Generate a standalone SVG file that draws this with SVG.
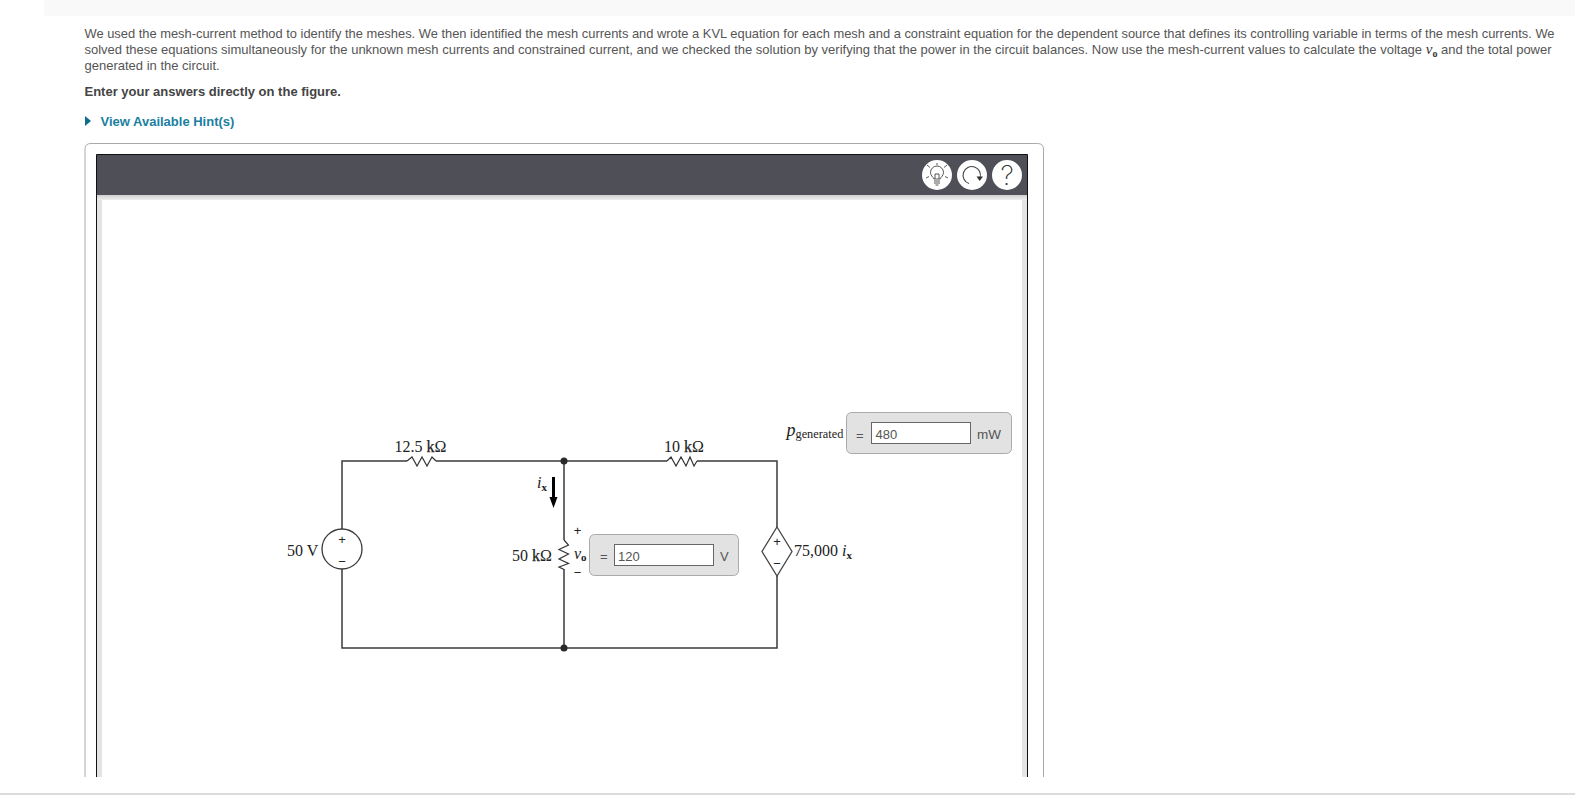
<svg xmlns="http://www.w3.org/2000/svg" width="1575" height="795" viewBox="0 0 1575 795">
<defs>
<linearGradient id="shade" x1="0" y1="0" x2="0" y2="1"><stop offset="0" stop-color="#d0d0d0"/><stop offset="1" stop-color="#eeeeee"/></linearGradient>
</defs>
<style>
.body{font-family:"Liberation Sans",Arial,sans-serif;font-size:13px;fill:#555}
.bold{font-family:"Liberation Sans",Arial,sans-serif;font-size:13px;font-weight:bold}
.lab{font-family:"Liberation Serif","Times New Roman",serif;font-size:16px;fill:#222}
.k{stroke:#222;stroke-width:.25}
.it{font-style:italic}
.sub{font-weight:bold;font-size:11px}
.sign{font-family:"Liberation Sans",Arial,sans-serif;font-size:13px;fill:#222;text-anchor:middle}
.ui{font-family:"Liberation Sans",Arial,sans-serif;font-size:13px;fill:#555}
.wire{fill:none;stroke:#3a3a3a;stroke-width:1.5;stroke-linejoin:miter}
.res{fill:none;stroke:#333;stroke-width:1.200;stroke-linejoin:miter}
.ansbox{fill:#e2e2e2;stroke:#aaa;stroke-width:1}
.field{fill:#fff;stroke:#666;stroke-width:1}
.dot{fill:#2a2a2a}
.icon{fill:#fff}
.glyph{fill:none;stroke:#444;stroke-width:.9}
</style>
<rect width="1575" height="795" fill="#fff"/>
<rect id="topband" x="44" y="0" width="1531" height="16" fill="#f9f9f9"/>
<rect id="bottomband" x="0" y="793" width="1575" height="2" fill="#dcdcdc"/>
<g id="prose">
<text class="body" x="84.500" y="38" textLength="1470" lengthAdjust="spacingAndGlyphs">We used the mesh-current method to identify the meshes. We then identified the mesh currents and wrote a KVL equation for each mesh and a constraint equation for the dependent source that defines its controlling variable in terms of the mesh currents. We</text>
<text class="body" x="84.500" y="54">solved these equations simultaneously for the unknown mesh currents and constrained current, and we checked the solution by verifying that the power in the circuit balances. Now use the mesh-current values to calculate the voltage <tspan font-family="Liberation Serif" font-style="italic" font-size="15" fill="#333">v</tspan><tspan font-family="Liberation Serif" font-weight="bold" font-size="10" dy="3" fill="#333">o</tspan><tspan dy="-3"> and the total power</tspan></text>
<text class="body" x="84.500" y="70">generated in the circuit.</text>
<text class="bold" x="84.500" y="96" fill="#444">Enter your answers directly on the figure.</text>
<path d="M85 116 L91 121 L85 126 Z" fill="#0b6e8e"/>
<text class="bold" x="100.500" y="126" fill="#1a7f9f">View Available Hint(s)</text>
</g>
<g id="frame">
<path d="M85 777 V149 Q85 143.500 91 143.500 H1037.500 Q1043.500 143.500 1043.500 149 V777" fill="#fff" stroke="#aaa" stroke-width="1"/>
<rect x="96" y="154" width="932" height="623" fill="#e4e4e4"/>
<rect x="97" y="195" width="930" height="5" fill="url(#shade)"/>
<path d="M96.500 777 V154.500 H1027.500 V777" fill="none" stroke="#111" stroke-width="1"/>
<rect x="97" y="155" width="930" height="40" fill="#4f4f58"/>
<rect x="102" y="200" width="920" height="577" fill="#fff"/>
</g>
<g id="toolbar">
<g id="hint-icon"><circle class="icon" cx="937" cy="175" r="15"/>
<path class="glyph" d="M934 179 C933 177 930.500 175.500 930.500 172.500 A6.500 6.500 0 0 1 943.500 172.500 C943.500 175.500 941 177 940 179 Z M934 181 H940 M934 183 H940 M935.500 185 H938.500 M935 179 V174 H939 V179 M927 165 L930 167.500 M947 165 L944 167.500 M926 178 L929 176.500 M948 178 L945 176.500 M937 163 V165"/></g>
<g id="reset-icon"><circle class="icon" cx="972" cy="175" r="15"/>
<path class="glyph" style="stroke-width:1.100" d="M969 183.500 A8.700 8.700 0 1 1 980 178"/><path d="M976.500 176.500 L983 176.500 L979.700 181 Z" fill="#333"/></g>
<g id="help-icon"><circle class="icon" cx="1007" cy="175" r="15"/>
<text x="1007" y="185" font-family="Inter, Liberation Sans, sans-serif" font-weight="200" font-size="27" fill="#333" text-anchor="middle">?</text></g>
</g>
<g id="connectors">
<path class="wire" d="M342 529 V461 H407 M436 461 H667 M697 461 H777 V527 M777 576 V648 H342 V569"/>
<path class="wire" d="M564 461 V540 M564 569 V648"/>
</g>
<g id="node-source">
<circle cx="342" cy="549" r="20" fill="#fff" stroke="#3a3a3a" stroke-width="1.300"/>
<text class="sign" x="342" y="544">+</text><text class="sign" x="342" y="565.500">−</text>
<text class="lab" x="287" y="556">50 V</text>
</g>
<g id="node-r1">
<path class="res" d="M407 461 L412 457 L417 466 L422 457 L427 466 L432 457 L436 461"/>
<text class="lab" x="394.500" y="452">12.5 <tspan class="k">k</tspan>Ω</text>
</g>
<g id="node-r2">
<path class="res" d="M667 461 L671 457 L676 466 L681 457 L686 466 L690 457 L694 466 L697 461"/>
<text class="lab" x="664" y="452">10 <tspan class="k">k</tspan>Ω</text>
</g>
<g id="node-r3">
<path class="res" d="M564 540 L568.500 545 L559 549.500 L568.500 554 L559 559 L568.500 563.500 L559 567 L564 569.500"/>
<text class="lab" x="512" y="561">50 <tspan class="k">k</tspan>Ω</text>
</g>
<g id="node-top"><circle class="dot" cx="564" cy="461" r="3.500"/></g>
<g id="node-bottom"><circle class="dot" cx="564" cy="648" r="3.500"/></g>
<g id="node-ix">
<path d="M552 477 H555 V497 H557.500 L553.500 508 L549.500 497 H552 Z" fill="#000"/>
<text class="lab" x="537" y="488"><tspan class="it">i</tspan><tspan class="sub" dy="3">x</tspan></text>
</g>
<g id="node-vo">
<text class="sign" x="577.500" y="535">+</text><text class="sign" x="577.500" y="576.500">−</text>
<text class="lab" x="574" y="559"><tspan class="it">v</tspan><tspan class="sub" dy="2">o</tspan></text>
<rect class="ansbox" x="589.500" y="534.500" width="149" height="41" rx="5"/>
<text class="ui" x="600" y="561">=</text>
<rect class="field" x="614.500" y="544.500" width="99" height="21"/>
<text class="ui" x="618" y="561" fill="#555">120</text>
<text class="ui" x="720" y="561">V</text>
</g>
<g id="node-dep">
<path d="M777 527 L792 551.500 L777 576 L762 551.500 Z" fill="#fff" stroke="#444" stroke-width="1.300"/>
<text class="sign" x="777" y="546">+</text><text class="sign" x="777" y="567.500">−</text>
<text class="lab" x="794" y="556">75,000 <tspan class="it">i</tspan><tspan class="sub" dy="3">x</tspan></text>
</g>
<g id="node-p">
<text class="lab" x="786.500" y="436"><tspan class="it" font-size="18">p</tspan><tspan font-size="12.300" dy="2">generated</tspan></text>
<rect class="ansbox" x="846.500" y="412.500" width="165" height="41" rx="5"/>
<text class="ui" x="856" y="440">=</text>
<rect class="field" x="871.500" y="422.500" width="99" height="21"/>
<text class="ui" x="875.500" y="439" fill="#555">480</text>
<text class="ui" x="977" y="439" style="font-size:13.500px">mW</text>
</g>
</svg>
